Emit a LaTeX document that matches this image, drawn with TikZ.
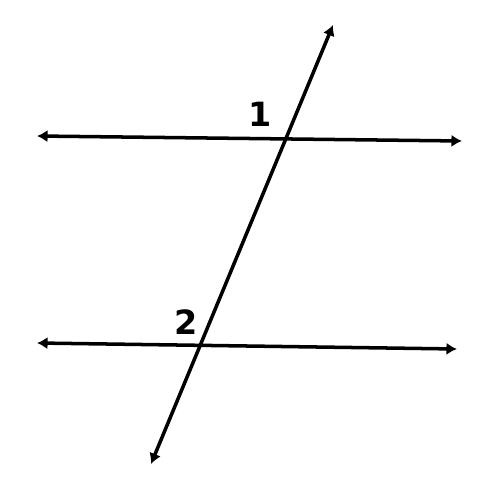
\documentclass[tikz,border=0pt]{standalone}
\usepackage{fontspec}
\setmainfont{DejaVu Sans}
\usetikzlibrary{arrows.meta}
\tikzset{x=0.02cm, y=-0.02cm,
  line/.style={line width=2pt, {Latex[length=6pt,width=7pt]}-{Latex[length=6pt,width=7pt]}},
  angle/.style={font=\fontsize{19}{19}\selectfont\bfseries}}

\begin{document}
\begin{tikzpicture}

             \useasboundingbox (0,0) rectangle (485,497);

             \coordinate (L1) at (37,136);
             \coordinate (R1) at (462,141);
             \coordinate (L2) at (37,343);
             \coordinate (R2) at (457,349);
             \coordinate (T) at (333,25);
             \coordinate (B) at (151,464);

             \draw [line] (L1) -- (R1);
             \draw [line] (L2) -- (R2);
             \draw [line] (B) -- (T);

             \node [angle] (one) at (260,114) {1};
             \node [angle] (two) at (186,322) {2};
          \end{tikzpicture}
\end{document}
